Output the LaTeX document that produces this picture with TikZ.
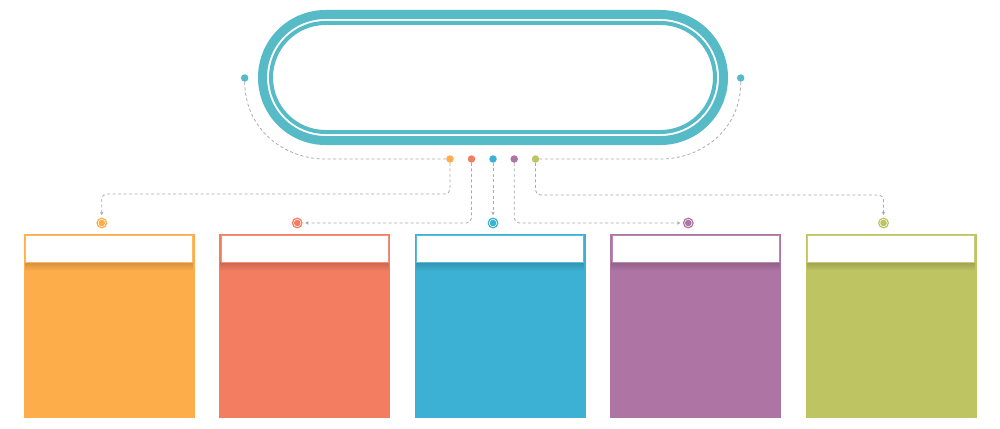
\documentclass[tikz,border=0pt]{standalone}
\usetikzlibrary{shapes.misc,arrows.meta}

\definecolor{tealC}{HTML}{56BAC7}
\definecolor{orangeC}{HTML}{FDAD4A}
\definecolor{redC}{HTML}{F37D61}
\definecolor{blueC}{HTML}{3DB1D4}
\definecolor{purpleC}{HTML}{AE74A4}
\definecolor{greenC}{HTML}{BFC463}
\definecolor{dashC}{HTML}{ABABAB}

\tikzset{
  pill/.style={rounded rectangle, draw=tealC, line width=9pt, inner sep=0pt,
    minimum width=461pt, minimum height=126pt},
  pillin/.style={rounded rectangle, draw=tealC, line width=4pt, inner sep=0pt,
    minimum width=444pt, minimum height=109pt},
  dot/.style={circle, fill=#1, inner sep=0pt, minimum size=7.5pt},
  ring/.style={circle, draw=#1, fill=white, line width=1.2pt, inner sep=0pt,
    minimum size=9.6pt,
    path picture={\fill[#1] (path picture bounding box.center) circle (3.3pt);}},
  link/.style={draw=dashC, line width=0.8pt, dash pattern=on 3pt off 2.5pt,
    rounded corners=5pt},
  tip/.style={-{Stealth[length=3.5pt,width=3.5pt]}, shorten >=2.5pt},
  card/.style={draw=#1, fill=#1, line width=1pt, inner sep=0pt, anchor=north,
    minimum width=170pt, minimum height=183.5pt},
  head/.style={draw=#1!85!white, fill=white, line width=0.6pt, inner sep=0pt,
    anchor=north, minimum width=167pt, minimum height=27.5pt},
}

\begin{document}
\begin{tikzpicture}[x=1pt,y=-1pt]
   \useasboundingbox [fill=white] (0,0) rectangle (1000,428);

   % Title pill
   \node [pill] (title) at (493,77.5) {};
   \node [pillin] (titlein) at (title.center) {};
   \node [dot=tealC] (ldot) at (244.7,78) {};
   \node [dot=tealC] (rdot) at (740.7,78) {};

   % Colour dots under the pill
   \node [dot=orangeC] (d1) at (450,159) {};
   \node [dot=redC] (d2) at (471.5,159) {};
   \node [dot=blueC] (d3) at (493,159) {};
   \node [dot=purpleC] (d4) at (514.2,159) {};
   \node [dot=greenC] (d5) at (535.5,159) {};

   % Markers over the cards
   \node [ring=orangeC] (m1) at (101.8,223) {};
   \node [ring=redC] (m2) at (297.2,223) {};
   \node [ring=blueC] (m3) at (493,223) {};
   \node [ring=purpleC] (m4) at (688.3,223) {};
   \node [ring=greenC] (m5) at (883.5,223) {};

   % Cards
   \node [card=orangeC] (c1) at (109,233.8) {};
   \node [card=redC] (c2) at (304.5,233.8) {};
   \node [card=blueC] (c3) at (500,233.8) {};
   \node [card=purpleC] (c4) at (695.5,233.8) {};
   \node [card=greenC] (c5) at (891,233.8) {};

   \shade [top color=orangeC!82!black, bottom color=orangeC] ([xshift=1.5pt,yshift=-28pt]c1.north west) rectangle ([xshift=-1.5pt,yshift=-37pt]c1.north east);
   \shade [top color=redC!82!black, bottom color=redC] ([xshift=1.5pt,yshift=-28pt]c2.north west) rectangle ([xshift=-1.5pt,yshift=-37pt]c2.north east);
   \shade [top color=blueC!82!black, bottom color=blueC] ([xshift=1.5pt,yshift=-28pt]c3.north west) rectangle ([xshift=-1.5pt,yshift=-37pt]c3.north east);
   \shade [top color=purpleC!82!black, bottom color=purpleC] ([xshift=1.5pt,yshift=-28pt]c4.north west) rectangle ([xshift=-1.5pt,yshift=-37pt]c4.north east);
   \shade [top color=greenC!82!black, bottom color=greenC] ([xshift=1.5pt,yshift=-28pt]c5.north west) rectangle ([xshift=-1.5pt,yshift=-37pt]c5.north east);

   \node [head=orangeC] (h1) at ([yshift=-1pt]c1.north) {};
   \node [head=redC] (h2) at ([yshift=-1pt]c2.north) {};
   \node [head=blueC] (h3) at ([yshift=-1pt]c3.north) {};
   \node [head=purpleC] (h4) at ([yshift=-1pt]c4.north) {};
   \node [head=greenC] (h5) at ([yshift=-1pt]c5.north) {};

   % Dashed links
   \draw [link] (ldot) .. controls (245,130) and (285,159) .. (330,159) -- (d1);
   \draw [link] (d5) -- (656,159) .. controls (701,159) and (741,130) .. (rdot);

   \draw [link,tip] (d1) -- ++(0,35) -| (m1);
   \draw [link,tip] (d2) |- (m2);
   \draw [link,tip] (d3) -- (m3);
   \draw [link,tip] (d4) |- (m4);
   \draw [link,tip] (d5) -- ++(0,36) -| (m5);
\end{tikzpicture}
\end{document}
